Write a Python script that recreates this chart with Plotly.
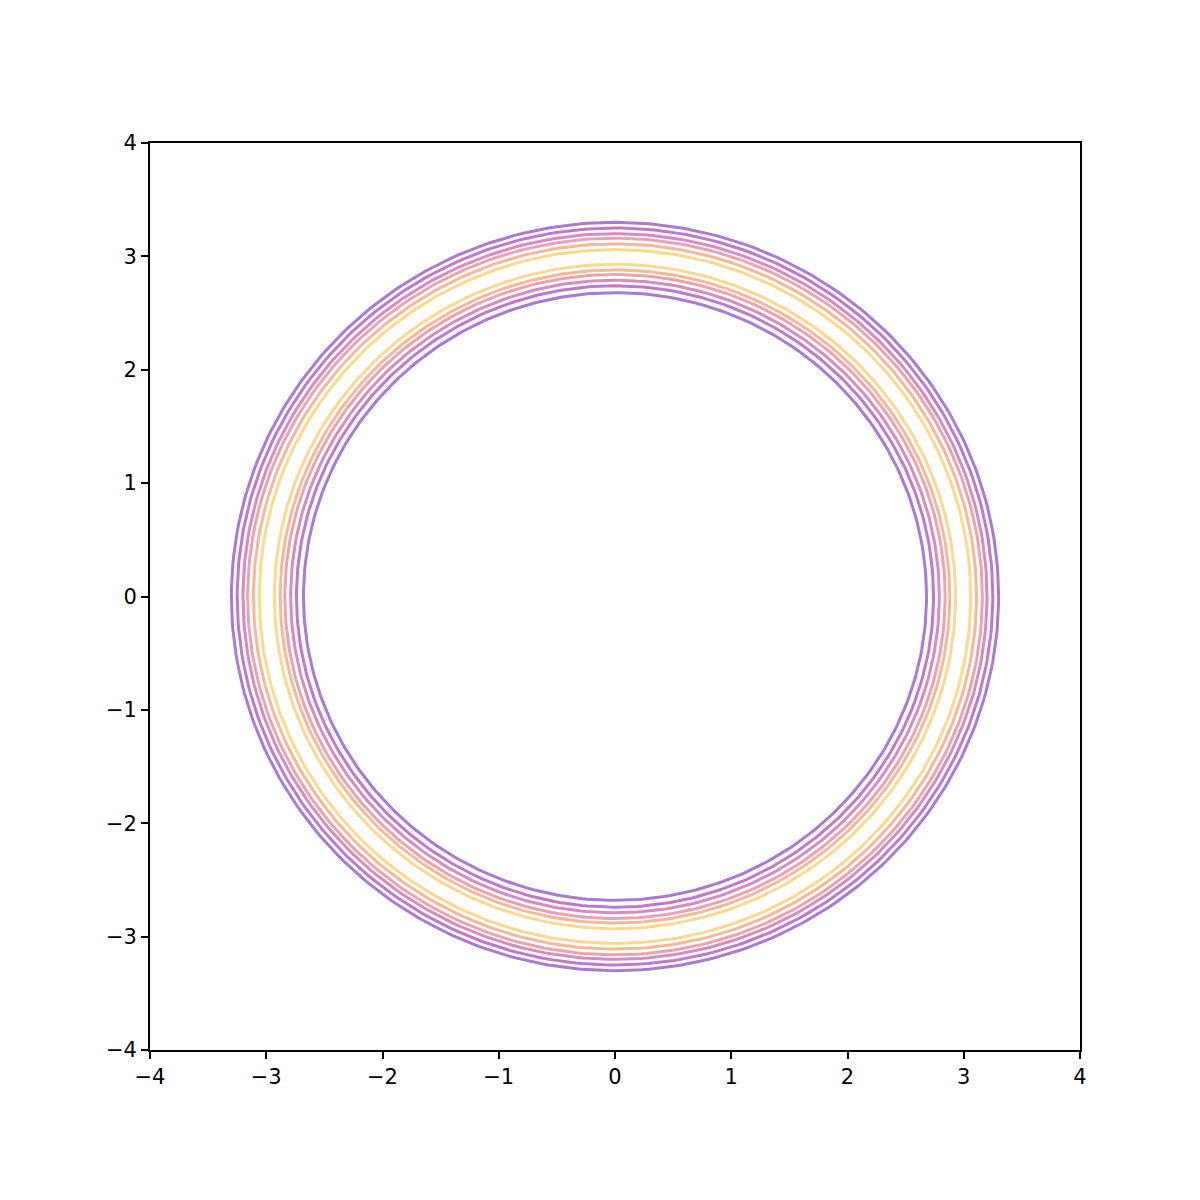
import numpy as np
import plotly.graph_objects as go

# contour radii, inner ring and outer ring
inner_radii = [2.93, 2.88, 2.84, 2.79, 2.74, 2.68]
outer_radii = [3.06, 3.11, 3.16, 3.20, 3.25, 3.30]
level_colors = ['#fcd98e', '#f6b896', '#eba3b0', '#d68cc0', '#bf78cc', '#a97ad2']

theta = np.linspace(0, 2 * np.pi, 361)

fig = go.Figure()
for radii in (inner_radii, outer_radii):
    for r, c in zip(radii, level_colors):
        fig.add_trace(go.Scatter(x=r * np.cos(theta), y=r * np.sin(theta), mode='lines',
                                 line=dict(color=c, width=3), hoverinfo='skip', showlegend=False))

axis = dict(range=[-4, 4], dtick=1, ticks='outside', ticklen=7, tickwidth=1.6, tickcolor='black',
            showline=True, linecolor='black', linewidth=1.8, mirror=True,
            showgrid=False, zeroline=False, tickfont=dict(size=21, color='black'))

fig.update_layout(
    width=1200, height=1200,
    margin=dict(l=142, r=128, t=135, b=158),
    paper_bgcolor='white', plot_bgcolor='white',
    font=dict(family='DejaVu Sans'),
    xaxis=axis, yaxis=axis,
)

fig.write_html("out.html")
